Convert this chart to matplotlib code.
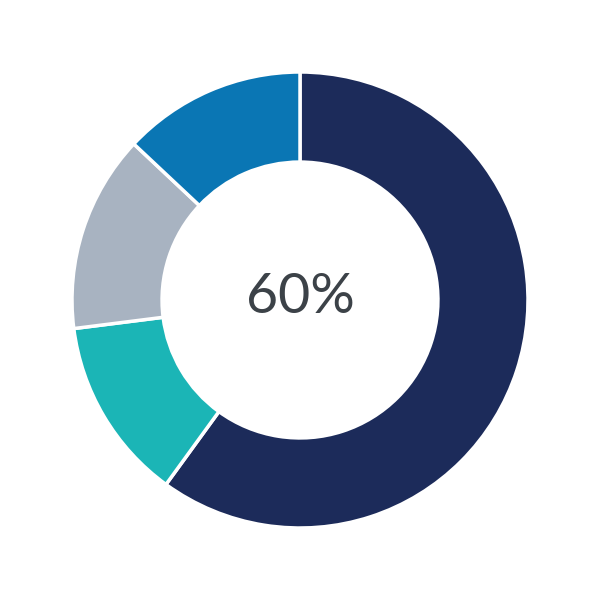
import matplotlib
matplotlib.use('Agg')
import matplotlib.pyplot as plt

# segment shares, clockwise from 12 o'clock
labels = ['Main', 'Teal', 'Gray', 'Blue']
shares = [60, 13, 14, 13]
colors = ['#1c2b5a', '#1bb5b6', '#a8b3c1', '#0a76b4']
center_label = '60%'

fig = plt.figure(figsize=(6, 6), dpi=100)
ax = fig.add_axes([0, 0, 1, 1])

ax.pie(shares, colors=colors, startangle=90, counterclock=False,
       radius=1.0, wedgeprops=dict(width=0.395, edgecolor='white', linewidth=2.5))

ax.text(0, 0.01, center_label, ha='center', va='center', fontsize=40,
        color='#3c4248', family=['Lato', 'DejaVu Sans'], fontweight='normal')

lim = 300 / 228
ax.set_xlim(-lim, lim)
ax.set_ylim(-lim, lim)
ax.set_aspect('equal')
ax.axis('off')

fig.savefig('out.png', dpi=100, facecolor='white')
